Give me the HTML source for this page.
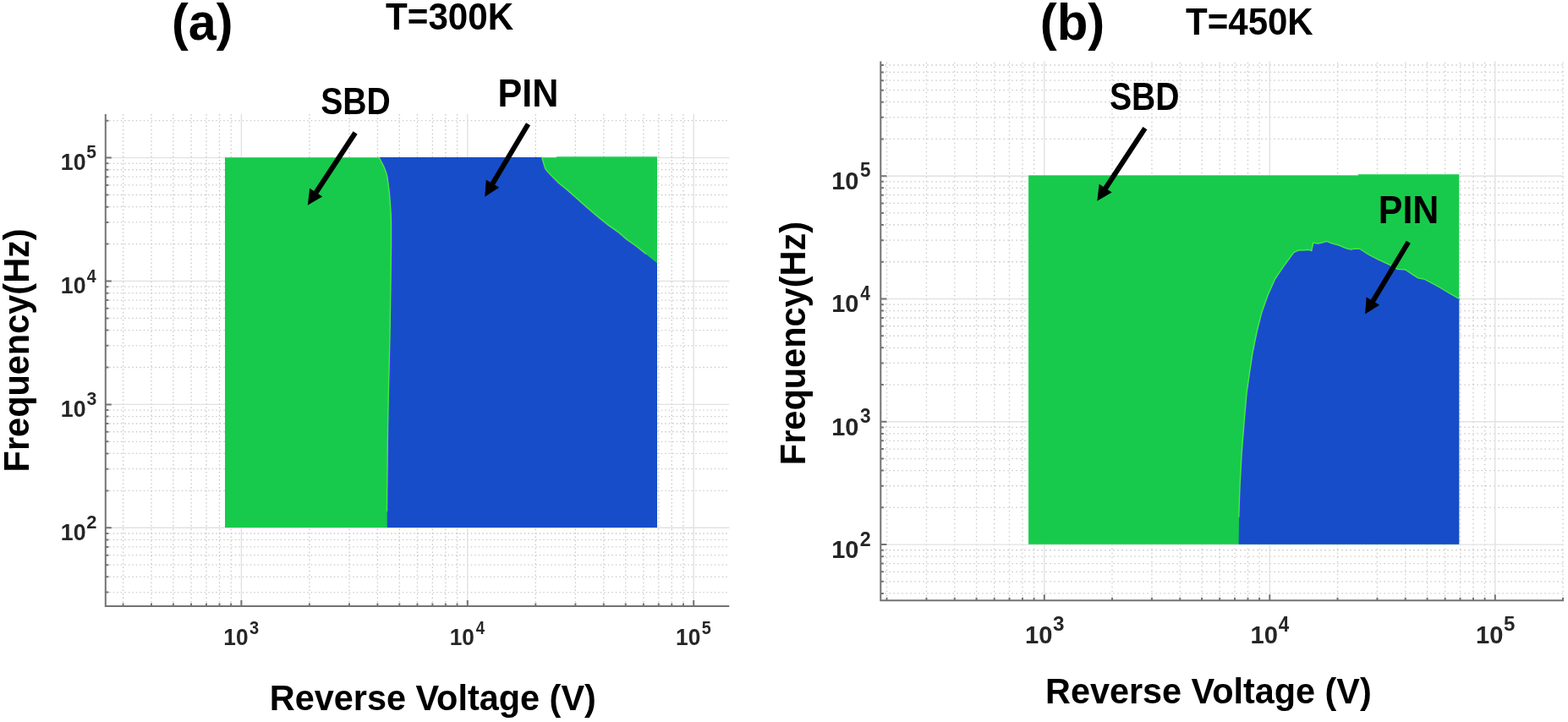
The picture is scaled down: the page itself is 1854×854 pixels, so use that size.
<!DOCTYPE html><html><head><meta charset="utf-8"><title>SBD vs PIN</title><style>html,body{margin:0;padding:0;background:#fff;overflow:hidden}svg{display:block}</style></head><body>
<svg width="1854" height="854" viewBox="0 0 1854 854">
<rect width="1854" height="854" fill="#fff"/>
<g stroke="#c8c8c8" stroke-width="1.3" stroke-dasharray="1.4 3.1" fill="none">
<line x1="124.80" y1="700.59" x2="862.30" y2="700.59"/>
<line x1="124.80" y1="682.36" x2="862.30" y2="682.36"/>
<line x1="124.80" y1="668.22" x2="862.30" y2="668.22"/>
<line x1="124.80" y1="656.67" x2="862.30" y2="656.67"/>
<line x1="124.80" y1="646.90" x2="862.30" y2="646.90"/>
<line x1="124.80" y1="638.44" x2="862.30" y2="638.44"/>
<line x1="124.80" y1="630.98" x2="862.30" y2="630.98"/>
<line x1="124.80" y1="580.38" x2="862.30" y2="580.38"/>
<line x1="145.58" y1="717.00" x2="145.58" y2="135.00"/>
<line x1="124.80" y1="554.69" x2="862.30" y2="554.69"/>
<line x1="178.99" y1="717.00" x2="178.99" y2="135.00"/>
<line x1="124.80" y1="536.46" x2="862.30" y2="536.46"/>
<line x1="204.90" y1="717.00" x2="204.90" y2="135.00"/>
<line x1="124.80" y1="522.32" x2="862.30" y2="522.32"/>
<line x1="226.08" y1="717.00" x2="226.08" y2="135.00"/>
<line x1="124.80" y1="510.77" x2="862.30" y2="510.77"/>
<line x1="243.98" y1="717.00" x2="243.98" y2="135.00"/>
<line x1="124.80" y1="501.00" x2="862.30" y2="501.00"/>
<line x1="259.49" y1="717.00" x2="259.49" y2="135.00"/>
<line x1="124.80" y1="492.54" x2="862.30" y2="492.54"/>
<line x1="273.16" y1="717.00" x2="273.16" y2="135.00"/>
<line x1="124.80" y1="485.08" x2="862.30" y2="485.08"/>
<line x1="365.90" y1="717.00" x2="365.90" y2="135.00"/>
<line x1="124.80" y1="434.48" x2="862.30" y2="434.48"/>
<line x1="412.98" y1="717.00" x2="412.98" y2="135.00"/>
<line x1="124.80" y1="408.79" x2="862.30" y2="408.79"/>
<line x1="446.39" y1="717.00" x2="446.39" y2="135.00"/>
<line x1="124.80" y1="390.56" x2="862.30" y2="390.56"/>
<line x1="472.30" y1="717.00" x2="472.30" y2="135.00"/>
<line x1="124.80" y1="376.42" x2="862.30" y2="376.42"/>
<line x1="493.48" y1="717.00" x2="493.48" y2="135.00"/>
<line x1="124.80" y1="364.87" x2="862.30" y2="364.87"/>
<line x1="511.38" y1="717.00" x2="511.38" y2="135.00"/>
<line x1="124.80" y1="355.10" x2="862.30" y2="355.10"/>
<line x1="526.89" y1="717.00" x2="526.89" y2="135.00"/>
<line x1="124.80" y1="346.64" x2="862.30" y2="346.64"/>
<line x1="540.56" y1="717.00" x2="540.56" y2="135.00"/>
<line x1="124.80" y1="339.18" x2="862.30" y2="339.18"/>
<line x1="633.30" y1="717.00" x2="633.30" y2="135.00"/>
<line x1="124.80" y1="288.58" x2="862.30" y2="288.58"/>
<line x1="680.38" y1="717.00" x2="680.38" y2="135.00"/>
<line x1="124.80" y1="262.89" x2="862.30" y2="262.89"/>
<line x1="713.79" y1="717.00" x2="713.79" y2="135.00"/>
<line x1="124.80" y1="244.66" x2="862.30" y2="244.66"/>
<line x1="739.70" y1="717.00" x2="739.70" y2="135.00"/>
<line x1="124.80" y1="230.52" x2="862.30" y2="230.52"/>
<line x1="760.88" y1="717.00" x2="760.88" y2="135.00"/>
<line x1="124.80" y1="218.97" x2="862.30" y2="218.97"/>
<line x1="778.78" y1="717.00" x2="778.78" y2="135.00"/>
<line x1="124.80" y1="209.20" x2="862.30" y2="209.20"/>
<line x1="794.29" y1="717.00" x2="794.29" y2="135.00"/>
<line x1="124.80" y1="200.74" x2="862.30" y2="200.74"/>
<line x1="807.96" y1="717.00" x2="807.96" y2="135.00"/>
<line x1="124.80" y1="193.28" x2="862.30" y2="193.28"/>
<line x1="124.80" y1="142.68" x2="862.30" y2="142.68"/>
</g>
<g stroke="#e2e2e2" stroke-width="1.4" fill="none">
<line x1="124.80" y1="624.30" x2="862.30" y2="624.30"/>
<line x1="285.40" y1="717.00" x2="285.40" y2="135.00"/>
<line x1="124.80" y1="478.40" x2="862.30" y2="478.40"/>
<line x1="552.80" y1="717.00" x2="552.80" y2="135.00"/>
<line x1="124.80" y1="332.50" x2="862.30" y2="332.50"/>
<line x1="820.20" y1="717.00" x2="820.20" y2="135.00"/>
<line x1="124.80" y1="186.60" x2="862.30" y2="186.60"/>
</g>
<rect x="266.0" y="186.3" width="511.00" height="437.70" fill="#18ca4c"/>
<rect x="657.9" y="185.3" width="119.10" height="1.50" fill="#18ca4c"/>
<polygon points="448.4,185.9 450.7,190.5 452.9,194.6 454.7,198.5 456.2,202.4 457.3,205.6 458.1,208.8 459.4,217.9 460.7,228.3 461.7,241.2 462.5,254.0 462.8,264.0 462.8,280.0 462.8,292.0 462.6,305.0 462.3,330.0 461.8,365.0 461.2,400.0 460.4,435.0 459.5,471.0 458.9,505.0 458.4,542.0 458.0,580.0 457.8,605.0 457.7,624.0 777.0,624.0 777.0,311.3 763.7,300.8 752.0,291.4 740.2,283.2 730.9,275.0 719.2,266.8 707.5,257.5 691.1,243.4 680.0,233.4 670.0,224.7 660.1,216.6 652.3,208.8 646.5,202.5 644.5,199.8 642.5,193.5 640.3,185.9" fill="#174dc8"/>
<polyline points="448.4,185.9 450.7,190.5 452.9,194.6 454.7,198.5 456.2,202.4 457.3,205.6 458.1,208.8 459.4,217.9 460.7,228.3 461.7,241.2 462.5,254.0 462.8,264.0 462.8,280.0 462.8,292.0 462.6,305.0 462.3,330.0 461.8,365.0 461.2,400.0 460.4,435.0 459.5,471.0 458.9,505.0 458.4,542.0 458.0,580.0 457.8,605.0" fill="none" stroke="#4a3cf2" stroke-width="1.1" stroke-opacity="0.75" transform="translate(1.0,0)"/>
<polyline points="448.4,185.9 450.7,190.5 452.9,194.6 454.7,198.5 456.2,202.4 457.3,205.6 458.1,208.8 459.4,217.9 460.7,228.3 461.7,241.2 462.5,254.0 462.8,264.0 462.8,280.0 462.8,292.0 462.6,305.0 462.3,330.0 461.8,365.0 461.2,400.0 460.4,435.0 459.5,471.0 458.9,505.0 458.4,542.0 458.0,580.0 457.8,605.0" fill="none" stroke="#42f03c" stroke-width="1.3" transform="translate(-0.3,0)"/>
<polyline points="763.7,300.8 752.0,291.4 740.2,283.2 730.9,275.0 719.2,266.8 707.5,257.5 691.1,243.4 680.0,233.4 670.0,224.7 660.1,216.6 652.3,208.8 646.5,202.5 644.5,199.8 642.5,193.5 640.3,185.9" fill="none" stroke="#4a3cf2" stroke-width="1.1" stroke-opacity="0.75" transform="translate(-0.5,0.8)"/>
<polyline points="763.7,300.8 752.0,291.4 740.2,283.2 730.9,275.0 719.2,266.8 707.5,257.5 691.1,243.4 680.0,233.4 670.0,224.7 660.1,216.6 652.3,208.8 646.5,202.5 644.5,199.8 642.5,193.5 640.3,185.9" fill="none" stroke="#42f03c" stroke-width="1.3" transform="translate(0.3,-0.4)"/>
<g stroke="#737373" stroke-width="2" fill="none" stroke-linecap="butt">
<path d="M124.80,135.00 L124.80,717.00 L862.30,717.00"/>
<path d="M124.80,700.59h3.6 M124.80,682.36h3.6 M124.80,668.22h3.6 M124.80,656.67h3.6 M124.80,646.90h3.6 M124.80,638.44h3.6 M124.80,630.98h3.6 M124.80,624.30h7 M124.80,580.38h3.6 M145.58,717.00v-3.6 M124.80,554.69h3.6 M178.99,717.00v-3.6 M124.80,536.46h3.6 M204.90,717.00v-3.6 M124.80,522.32h3.6 M226.08,717.00v-3.6 M124.80,510.77h3.6 M243.98,717.00v-3.6 M124.80,501.00h3.6 M259.49,717.00v-3.6 M124.80,492.54h3.6 M273.16,717.00v-3.6 M124.80,485.08h3.6 M285.40,717.00v-7 M124.80,478.40h7 M365.90,717.00v-3.6 M124.80,434.48h3.6 M412.98,717.00v-3.6 M124.80,408.79h3.6 M446.39,717.00v-3.6 M124.80,390.56h3.6 M472.30,717.00v-3.6 M124.80,376.42h3.6 M493.48,717.00v-3.6 M124.80,364.87h3.6 M511.38,717.00v-3.6 M124.80,355.10h3.6 M526.89,717.00v-3.6 M124.80,346.64h3.6 M540.56,717.00v-3.6 M124.80,339.18h3.6 M552.80,717.00v-7 M124.80,332.50h7 M633.30,717.00v-3.6 M124.80,288.58h3.6 M680.38,717.00v-3.6 M124.80,262.89h3.6 M713.79,717.00v-3.6 M124.80,244.66h3.6 M739.70,717.00v-3.6 M124.80,230.52h3.6 M760.88,717.00v-3.6 M124.80,218.97h3.6 M778.78,717.00v-3.6 M124.80,209.20h3.6 M794.29,717.00v-3.6 M124.80,200.74h3.6 M807.96,717.00v-3.6 M124.80,193.28h3.6 M820.20,717.00v-7 M124.80,186.60h7 M124.80,142.68h3.6"/>
</g>
<g font-family='"Liberation Sans", Arial, Helvetica, sans-serif' font-weight="bold" fill="#262626">
<text transform="translate(264.29,763.32) scale(0.9516,1)" font-size="27.61" fill="#262626">10</text>
<text transform="translate(295.10,749.88) scale(0.8987,1)" font-size="22.25" fill="#262626">3</text>
<text transform="translate(531.69,763.32) scale(0.9516,1)" font-size="27.61" fill="#262626">10</text>
<text transform="translate(562.72,750.10) scale(0.8081,1)" font-size="22.90" fill="#262626">4</text>
<text transform="translate(799.09,763.32) scale(0.9516,1)" font-size="27.61" fill="#262626">10</text>
<text transform="translate(829.81,749.87) scale(0.8772,1)" font-size="22.57" fill="#262626">5</text>
<text transform="translate(71.76,638.72) scale(0.9455,1)" font-size="28.31" fill="#262626">10</text>
<text transform="translate(102.23,625.30) scale(0.9879,1)" font-size="22.14" fill="#262626">2</text>
<text transform="translate(71.76,492.82) scale(0.9455,1)" font-size="28.31" fill="#262626">10</text>
<text transform="translate(102.47,479.18) scale(0.9717,1)" font-size="21.83" fill="#262626">3</text>
<text transform="translate(71.76,346.92) scale(0.9455,1)" font-size="28.31" fill="#262626">10</text>
<text transform="translate(102.71,333.50) scale(0.8737,1)" font-size="22.46" fill="#262626">4</text>
<text transform="translate(71.76,201.02) scale(0.9455,1)" font-size="28.31" fill="#262626">10</text>
<text transform="translate(102.37,187.38) scale(0.9484,1)" font-size="22.14" fill="#262626">5</text>
</g>
<g stroke="#c8c8c8" stroke-width="1.3" stroke-dasharray="1.5 3.5" fill="none">
<line x1="1041.30" y1="701.92" x2="1849.00" y2="701.92"/>
<line x1="1041.30" y1="687.84" x2="1849.00" y2="687.84"/>
<line x1="1041.30" y1="676.33" x2="1849.00" y2="676.33"/>
<line x1="1041.30" y1="666.61" x2="1849.00" y2="666.61"/>
<line x1="1041.30" y1="658.18" x2="1849.00" y2="658.18"/>
<line x1="1041.30" y1="650.75" x2="1849.00" y2="650.75"/>
<line x1="1048.52" y1="710.30" x2="1048.52" y2="72.60"/>
<line x1="1041.30" y1="600.36" x2="1849.00" y2="600.36"/>
<line x1="1095.45" y1="710.30" x2="1095.45" y2="72.60"/>
<line x1="1041.30" y1="574.77" x2="1849.00" y2="574.77"/>
<line x1="1128.75" y1="710.30" x2="1128.75" y2="72.60"/>
<line x1="1041.30" y1="556.62" x2="1849.00" y2="556.62"/>
<line x1="1154.58" y1="710.30" x2="1154.58" y2="72.60"/>
<line x1="1041.30" y1="542.54" x2="1849.00" y2="542.54"/>
<line x1="1175.68" y1="710.30" x2="1175.68" y2="72.60"/>
<line x1="1041.30" y1="531.03" x2="1849.00" y2="531.03"/>
<line x1="1193.52" y1="710.30" x2="1193.52" y2="72.60"/>
<line x1="1041.30" y1="521.31" x2="1849.00" y2="521.31"/>
<line x1="1208.97" y1="710.30" x2="1208.97" y2="72.60"/>
<line x1="1041.30" y1="512.88" x2="1849.00" y2="512.88"/>
<line x1="1222.61" y1="710.30" x2="1222.61" y2="72.60"/>
<line x1="1041.30" y1="505.45" x2="1849.00" y2="505.45"/>
<line x1="1315.02" y1="710.30" x2="1315.02" y2="72.60"/>
<line x1="1041.30" y1="455.06" x2="1849.00" y2="455.06"/>
<line x1="1361.95" y1="710.30" x2="1361.95" y2="72.60"/>
<line x1="1041.30" y1="429.47" x2="1849.00" y2="429.47"/>
<line x1="1395.25" y1="710.30" x2="1395.25" y2="72.60"/>
<line x1="1041.30" y1="411.32" x2="1849.00" y2="411.32"/>
<line x1="1421.08" y1="710.30" x2="1421.08" y2="72.60"/>
<line x1="1041.30" y1="397.24" x2="1849.00" y2="397.24"/>
<line x1="1442.18" y1="710.30" x2="1442.18" y2="72.60"/>
<line x1="1041.30" y1="385.73" x2="1849.00" y2="385.73"/>
<line x1="1460.02" y1="710.30" x2="1460.02" y2="72.60"/>
<line x1="1041.30" y1="376.01" x2="1849.00" y2="376.01"/>
<line x1="1475.47" y1="710.30" x2="1475.47" y2="72.60"/>
<line x1="1041.30" y1="367.58" x2="1849.00" y2="367.58"/>
<line x1="1489.11" y1="710.30" x2="1489.11" y2="72.60"/>
<line x1="1041.30" y1="360.15" x2="1849.00" y2="360.15"/>
<line x1="1581.52" y1="710.30" x2="1581.52" y2="72.60"/>
<line x1="1041.30" y1="309.76" x2="1849.00" y2="309.76"/>
<line x1="1628.45" y1="710.30" x2="1628.45" y2="72.60"/>
<line x1="1041.30" y1="284.17" x2="1849.00" y2="284.17"/>
<line x1="1661.75" y1="710.30" x2="1661.75" y2="72.60"/>
<line x1="1041.30" y1="266.02" x2="1849.00" y2="266.02"/>
<line x1="1687.58" y1="710.30" x2="1687.58" y2="72.60"/>
<line x1="1041.30" y1="251.94" x2="1849.00" y2="251.94"/>
<line x1="1708.68" y1="710.30" x2="1708.68" y2="72.60"/>
<line x1="1041.30" y1="240.43" x2="1849.00" y2="240.43"/>
<line x1="1726.52" y1="710.30" x2="1726.52" y2="72.60"/>
<line x1="1041.30" y1="230.71" x2="1849.00" y2="230.71"/>
<line x1="1741.97" y1="710.30" x2="1741.97" y2="72.60"/>
<line x1="1041.30" y1="222.28" x2="1849.00" y2="222.28"/>
<line x1="1755.61" y1="710.30" x2="1755.61" y2="72.60"/>
<line x1="1041.30" y1="214.85" x2="1849.00" y2="214.85"/>
<line x1="1848.02" y1="710.30" x2="1848.02" y2="72.60"/>
<line x1="1041.30" y1="164.46" x2="1849.00" y2="164.46"/>
<line x1="1041.30" y1="138.87" x2="1849.00" y2="138.87"/>
<line x1="1041.30" y1="120.72" x2="1849.00" y2="120.72"/>
<line x1="1041.30" y1="106.64" x2="1849.00" y2="106.64"/>
<line x1="1041.30" y1="95.13" x2="1849.00" y2="95.13"/>
<line x1="1041.30" y1="85.41" x2="1849.00" y2="85.41"/>
<line x1="1041.30" y1="76.98" x2="1849.00" y2="76.98"/>
</g>
<g stroke="#e2e2e2" stroke-width="1.4" fill="none">
<line x1="1041.30" y1="644.10" x2="1849.00" y2="644.10"/>
<line x1="1234.80" y1="710.30" x2="1234.80" y2="72.60"/>
<line x1="1041.30" y1="498.80" x2="1849.00" y2="498.80"/>
<line x1="1501.30" y1="710.30" x2="1501.30" y2="72.60"/>
<line x1="1041.30" y1="353.50" x2="1849.00" y2="353.50"/>
<line x1="1767.80" y1="710.30" x2="1767.80" y2="72.60"/>
<line x1="1041.30" y1="208.20" x2="1849.00" y2="208.20"/>
</g>
<rect x="1216.1" y="207.4" width="509.20" height="436.40" fill="#18ca4c"/>
<rect x="1605.9" y="206.2" width="119.40" height="1.70" fill="#18ca4c"/>
<polygon points="1464.6,643.8 1465.1,612.1 1466.3,575.2 1468.3,538.4 1471.2,501.5 1474.4,464.6 1478.2,438.2 1481.4,417.1 1486.6,391.8 1491.9,370.7 1499.3,349.6 1507.7,330.6 1518.3,314.8 1529.9,299.0 1535.1,296.4 1547.8,295.8 1551.0,296.9 1553.1,287.4 1558.3,288.4 1563.0,287.5 1568.8,285.8 1575.2,288.2 1583.4,290.5 1591.6,294.0 1597.5,295.5 1602.2,294.4 1608.0,294.6 1618.6,301.6 1630.3,307.5 1644.3,313.9 1652.5,318.6 1661.9,319.2 1672.4,326.2 1677.1,329.1 1684.1,330.3 1700.5,339.1 1712.2,346.1 1725.2,353.4 1725.2,643.8" fill="#174dc8"/>
<polyline points="1465.1,612.1 1466.3,575.2 1468.3,538.4 1471.2,501.5 1474.4,464.6 1478.2,438.2 1481.4,417.1 1486.6,391.8 1491.9,370.7 1499.3,349.6 1507.7,330.6 1518.3,314.8 1529.9,299.0 1535.1,296.4 1547.8,295.8 1551.0,296.9 1553.1,287.4 1558.3,288.4 1563.0,287.5 1568.8,285.8 1575.2,288.2 1583.4,290.5 1591.6,294.0 1597.5,295.5 1602.2,294.4 1608.0,294.6 1618.6,301.6 1630.3,307.5 1644.3,313.9 1652.5,318.6 1661.9,319.2 1672.4,326.2 1677.1,329.1 1684.1,330.3 1700.5,339.1 1712.2,346.1 1725.2,353.4" fill="none" stroke="#4a3cf2" stroke-width="1.1" stroke-opacity="0.75" transform="translate(0.6,0.8)"/>
<polyline points="1465.1,612.1 1466.3,575.2 1468.3,538.4 1471.2,501.5 1474.4,464.6 1478.2,438.2 1481.4,417.1 1486.6,391.8 1491.9,370.7 1499.3,349.6 1507.7,330.6 1518.3,314.8 1529.9,299.0 1535.1,296.4 1547.8,295.8 1551.0,296.9 1553.1,287.4 1558.3,288.4 1563.0,287.5 1568.8,285.8 1575.2,288.2 1583.4,290.5 1591.6,294.0 1597.5,295.5 1602.2,294.4 1608.0,294.6 1618.6,301.6 1630.3,307.5 1644.3,313.9 1652.5,318.6 1661.9,319.2 1672.4,326.2 1677.1,329.1 1684.1,330.3 1700.5,339.1 1712.2,346.1 1725.2,353.4" fill="none" stroke="#42f03c" stroke-width="1.3" transform="translate(-0.3,-0.3)"/>
<g stroke="#737373" stroke-width="2" fill="none" stroke-linecap="butt">
<path d="M1041.30,72.60 L1041.30,710.30 L1849.00,710.30"/>
<path d="M1041.30,701.92h3.6 M1041.30,687.84h3.6 M1041.30,676.33h3.6 M1041.30,666.61h3.6 M1041.30,658.18h3.6 M1041.30,650.75h3.6 M1041.30,644.10h7 M1048.52,710.30v-3.6 M1041.30,600.36h3.6 M1095.45,710.30v-3.6 M1041.30,574.77h3.6 M1128.75,710.30v-3.6 M1041.30,556.62h3.6 M1154.58,710.30v-3.6 M1041.30,542.54h3.6 M1175.68,710.30v-3.6 M1041.30,531.03h3.6 M1193.52,710.30v-3.6 M1041.30,521.31h3.6 M1208.97,710.30v-3.6 M1041.30,512.88h3.6 M1222.61,710.30v-3.6 M1041.30,505.45h3.6 M1234.80,710.30v-7 M1041.30,498.80h7 M1315.02,710.30v-3.6 M1041.30,455.06h3.6 M1361.95,710.30v-3.6 M1041.30,429.47h3.6 M1395.25,710.30v-3.6 M1041.30,411.32h3.6 M1421.08,710.30v-3.6 M1041.30,397.24h3.6 M1442.18,710.30v-3.6 M1041.30,385.73h3.6 M1460.02,710.30v-3.6 M1041.30,376.01h3.6 M1475.47,710.30v-3.6 M1041.30,367.58h3.6 M1489.11,710.30v-3.6 M1041.30,360.15h3.6 M1501.30,710.30v-7 M1041.30,353.50h7 M1581.52,710.30v-3.6 M1041.30,309.76h3.6 M1628.45,710.30v-3.6 M1041.30,284.17h3.6 M1661.75,710.30v-3.6 M1041.30,266.02h3.6 M1687.58,710.30v-3.6 M1041.30,251.94h3.6 M1708.68,710.30v-3.6 M1041.30,240.43h3.6 M1726.52,710.30v-3.6 M1041.30,230.71h3.6 M1741.97,710.30v-3.6 M1041.30,222.28h3.6 M1755.61,710.30v-3.6 M1041.30,214.85h3.6 M1767.80,710.30v-7 M1041.30,208.20h7 M1848.02,710.30v-3.6 M1041.30,164.46h3.6 M1041.30,138.87h3.6 M1041.30,120.72h3.6 M1041.30,106.64h3.6 M1041.30,95.13h3.6 M1041.30,85.41h3.6 M1041.30,76.98h3.6"/>
</g>
<g font-family='"Liberation Sans", Arial, Helvetica, sans-serif' font-weight="bold" fill="#262626">
<text transform="translate(1212.10,761.30) scale(0.9673,1)" font-size="30.14" fill="#262626">10</text>
<text transform="translate(1244.99,746.36) scale(1.0007,1)" font-size="24.23" fill="#262626">3</text>
<text transform="translate(1478.60,761.30) scale(0.9673,1)" font-size="30.14" fill="#262626">10</text>
<text transform="translate(1511.76,746.60) scale(0.8998,1)" font-size="24.93" fill="#262626">4</text>
<text transform="translate(1745.10,761.30) scale(0.9673,1)" font-size="30.14" fill="#262626">10</text>
<text transform="translate(1777.88,746.35) scale(0.9767,1)" font-size="24.57" fill="#262626">5</text>
<text transform="translate(983.22,659.90) scale(0.9652,1)" font-size="30.00" fill="#262626">10</text>
<text transform="translate(1016.78,645.50) scale(0.9665,1)" font-size="24.14" fill="#262626">2</text>
<text transform="translate(983.22,514.60) scale(0.9652,1)" font-size="30.00" fill="#262626">10</text>
<text transform="translate(1017.03,499.96) scale(0.9506,1)" font-size="23.80" fill="#262626">3</text>
<text transform="translate(983.22,369.30) scale(0.9652,1)" font-size="30.00" fill="#262626">10</text>
<text transform="translate(1017.29,354.90) scale(0.8547,1)" font-size="24.49" fill="#262626">4</text>
<text transform="translate(983.22,224.00) scale(0.9652,1)" font-size="30.00" fill="#262626">10</text>
<text transform="translate(1016.93,209.36) scale(0.9278,1)" font-size="24.14" fill="#262626">5</text>
</g>
<g font-family='"Liberation Sans", Arial, Helvetica, sans-serif' font-weight="bold" fill="#000">
<text transform="translate(203.04,47.03) scale(0.9828,1)" font-size="60.32" fill="#000">(a)</text>
<text transform="translate(1229.70,47.03) scale(0.9947,1)" font-size="60.32" fill="#000">(b)</text>
<text transform="translate(455.98,35.15) scale(0.9390,1)" font-size="44.93" fill="#000">T=300K</text>
<text transform="translate(1402.08,40.56) scale(0.9501,1)" font-size="44.23" fill="#000">T=450K</text>
<text transform="translate(379.13,135.35) scale(0.8679,1)" font-size="45.07" fill="#000">SBD</text>
<text transform="translate(588.60,126.00) scale(0.9328,1)" font-size="46.23" fill="#000">PIN</text>
<text transform="translate(1312.03,130.35) scale(0.8599,1)" font-size="45.49" fill="#000">SBD</text>
<text transform="translate(1629.81,264.30) scale(0.9434,1)" font-size="45.51" fill="#000">PIN</text>
<text transform="translate(318.81,840.40) scale(0.9724,1)" font-size="42.61" fill="#000">Reverse Voltage (V)</text>
<text transform="translate(1236.01,832.30) scale(0.9619,1)" font-size="43.04" fill="#000">Reverse Voltage (V)</text>
<text transform="translate(34.30,558.40) rotate(-90) scale(0.9669,1)" font-size="42.90">Frequency(Hz)</text>
<text transform="translate(951.50,550.20) rotate(-90) scale(0.9647,1)" font-size="43.04">Frequency(Hz)</text>
</g>
<line x1="420.10" y1="157.00" x2="373.13" y2="228.49" stroke="#000" stroke-width="6.0"/>
<polygon points="363.80,242.70 366.16,222.71 381.21,232.60" fill="#000"/>
<line x1="624.50" y1="146.70" x2="582.00" y2="218.09" stroke="#000" stroke-width="6.0"/>
<polygon points="573.30,232.70 574.77,212.63 590.24,221.84" fill="#000"/>
<line x1="1353.90" y1="151.70" x2="1306.65" y2="223.50" stroke="#000" stroke-width="6.0"/>
<polygon points="1297.30,237.70 1299.68,217.72 1314.71,227.61" fill="#000"/>
<line x1="1665.30" y1="286.30" x2="1622.86" y2="356.93" stroke="#000" stroke-width="6.0"/>
<polygon points="1614.10,371.50 1615.66,351.44 1631.09,360.71" fill="#000"/>
</svg></body></html>
